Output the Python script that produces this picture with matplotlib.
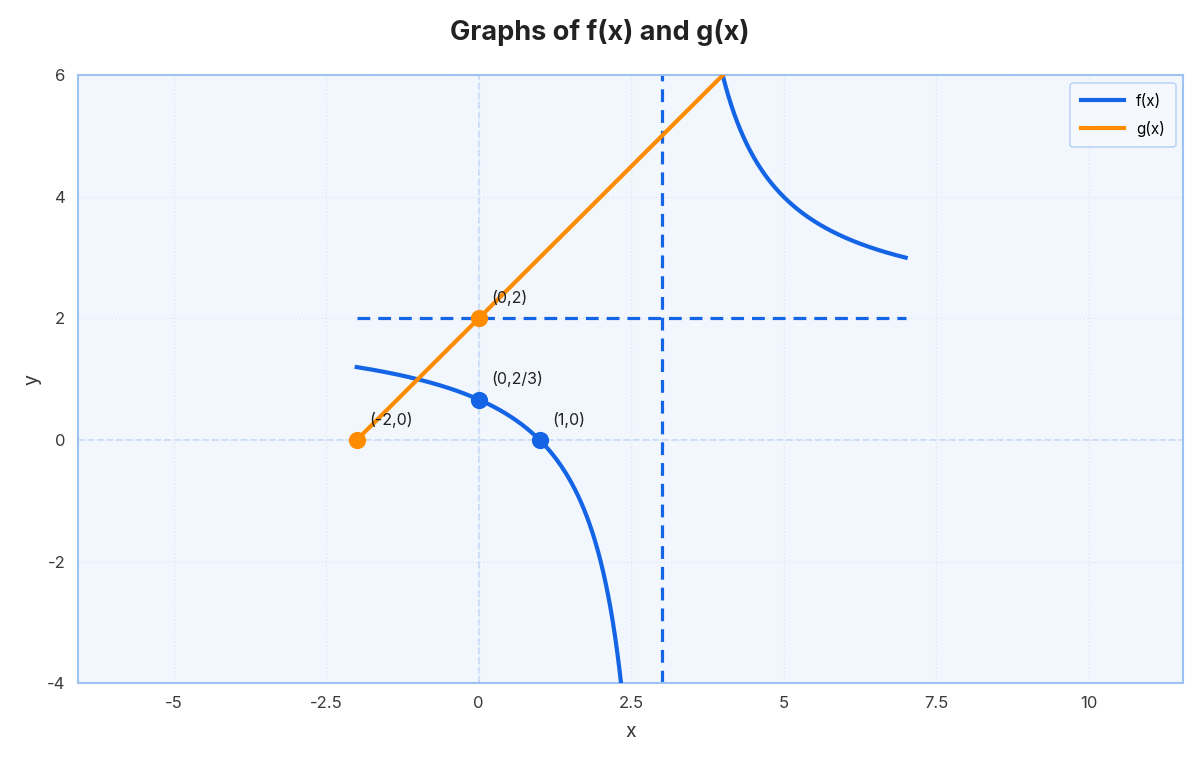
import numpy as np
import matplotlib
matplotlib.use("Agg")
import matplotlib.pyplot as plt

plt.rcParams["font.family"] = ["Inter", "DejaVu Sans"]
plt.rcParams["axes.unicode_minus"] = False

# f(x) = 2(x - 1) / (x - 3), g(x) = x + 2
f_zero = 1
v_asym = 3
h_asym = 2
f_left = (-2, 2.999)
f_right = (3.001, 7)
g_range = (-2, 4)

g_points_x = [-2, 0]
g_points_y = [0, 2]
g_labels = ["(-2,0)", "(0,2)"]
f_points_x = [0, 1]
f_points_y = [2 / 3, 0]
f_labels = ["(0,2/3)", "(1,0)"]

xticks = [-5, -2.5, 0, 2.5, 5, 7.5, 10]
xtick_labels = ["-5", "-2.5", "0", "2.5", "5", "7.5", "10"]
yticks = [-4, -2, 0, 2, 4, 6]

blue = "#1464e6"
orange = "#ff8c00"
light = "#c4d9f7"


def f(x):
    return h_asym * (x - f_zero) / (x - v_asym)


fig = plt.figure(figsize=(12, 7.6), dpi=100)
ax = fig.add_axes([0.065, 0.101, 0.921, 0.8])
ax.set_facecolor("#f2f7fd")

ax.grid(True, color="#dfe8f5", linestyle=":", linewidth=1)
ax.axhline(0, color=light, linestyle="--", linewidth=1.3, zorder=1)
ax.axvline(0, color=light, linestyle="--", linewidth=1.3, zorder=1)

xl = np.linspace(f_left[0], f_left[1], 800)
xr = np.linspace(f_right[0], f_right[1], 800)
ax.plot(xl, f(xl), color=blue, linewidth=3, label="f(x)", zorder=3)
ax.plot(xr, f(xr), color=blue, linewidth=3, zorder=3)

xg = np.linspace(g_range[0], g_range[1], 50)
ax.plot(xg, xg + 2, color=orange, linewidth=3, label="g(x)", zorder=3)

ax.axvline(v_asym, color=blue, linewidth=2.3, linestyle=(0, (4, 2.5)), zorder=2)
ax.plot([f_left[0], f_right[1]], [h_asym, h_asym], color=blue, linewidth=2.3,
        linestyle=(0, (4, 2.5)), zorder=2)

ax.scatter(g_points_x, g_points_y, s=130, color=orange, zorder=4)
ax.scatter(f_points_x, f_points_y, s=130, color=blue, zorder=4)
for x, y, t in zip(g_points_x + f_points_x, g_points_y + f_points_y, g_labels + f_labels):
    ax.annotate(t, (x, y), xytext=(9, 11), textcoords="offset points",
                fontsize=11.5, color="#222222")

ax.set_xlim(-6.57, 11.55)
ax.set_ylim(-4, 6)
ax.set_xticks(xticks)
ax.set_xticklabels(xtick_labels)
ax.set_yticks(yticks)
ax.tick_params(length=0, labelsize=12, colors="#3a3a3a", pad=9)
for s in ax.spines.values():
    s.set_color("#9fc2f5")
    s.set_linewidth(1.5)

ax.set_xlabel("x", fontsize=14, color="#333333", labelpad=9)
ax.set_ylabel("y", fontsize=14, color="#333333", labelpad=4)
fig.suptitle("Graphs of f(x) and g(x)", fontsize=19.5, fontweight="bold",
             color="#222222", y=0.975)

leg = ax.legend(loc="upper right", fontsize=11, frameon=True, handlelength=2.8,
                borderpad=0.7, labelspacing=0.8)
leg.get_frame().set_edgecolor("#b5cff5")
leg.get_frame().set_facecolor("#f7faff")
leg.get_frame().set_linewidth(1.3)

fig.savefig("out.png", dpi=100)
